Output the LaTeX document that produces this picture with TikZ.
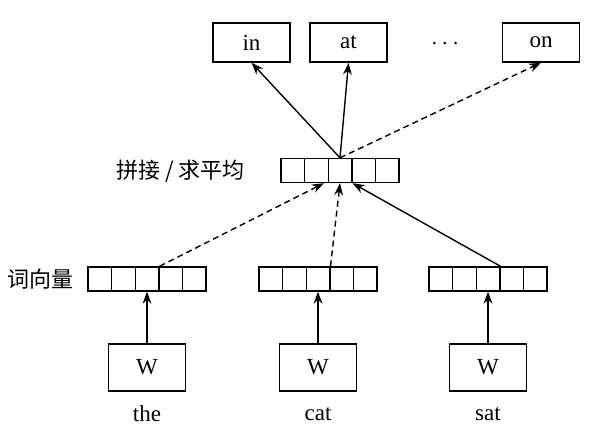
\documentclass[tikz,border=0pt]{standalone}
\usepackage{fontspec}
\setmainfont{Liberation Serif}
\newfontfamily\cjkfont{Noto Sans CJK SC}
\usetikzlibrary{arrows.meta}

\begin{document}
\begin{tikzpicture}[x=0.5pt,y=-0.5pt,font=\fontsize{11.5}{13}\selectfont,
    cell/.style={draw,line width=0.7pt,minimum width=11.8pt,minimum height=12pt,inner sep=0pt},
    outbox/.style={draw,line width=0.7pt,minimum width=38.5pt,minimum height=19.5pt,inner sep=0pt},
    wbox/.style={draw,line width=0.7pt,minimum width=38.5pt,minimum height=23.5pt,inner sep=0pt},
    arr/.style={-{Stealth[length=6pt,width=4.4pt]},line width=0.7pt},
    dasharr/.style={arr,dash pattern=on 3pt off 2pt}]
      \useasboundingbox (0,0) rectangle (592,433);
      % output words
      \node[outbox](in) at (251.5,42.5){in};
      \node[outbox](at) at (348.5,42.5){at};
      \node(dots) at (445,44){$\cdots$};
      \node[outbox](on) at (541,42.5){on};
      % hidden layer
      \foreach \i in {1,...,5}
        \node[cell](avg\i) at ({340+23.6*(\i-3)},170.5){};
      \node[anchor=east,font=\cjkfont\fontsize{11}{13}\selectfont](avglabel) at (252,171){拼接 / 求平均};
      % word vectors
      \foreach \i in {1,...,5}{
        \node[cell](the\i) at ({147+23.6*(\i-3)},279){};
        \node[cell](cat\i) at ({318+23.6*(\i-3)},279){};
        \node[cell](sat\i) at ({488+23.6*(\i-3)},279){};
      }
      \node[anchor=east,font=\cjkfont\fontsize{11}{13}\selectfont](veclabel) at (81,279){词向量};
      % input words
      \node[wbox](Wthe) at (147,367.5){W};
      \node[wbox](Wcat) at (318,367.5){W};
      \node[wbox](Wsat) at (488,367.5){W};
      \node(the) at (147,414){the};
      \node(cat) at (318,414){cat};
      \node(sat) at (488,414){sat};
      % connectors
      \draw[arr] (Wthe.north) -- (the3.south);
      \draw[arr] (Wcat.north) -- (cat3.south);
      \draw[arr] (Wsat.north) -- (sat3.south);
      \draw[dasharr] (the3.north east) -- ([xshift=-2.5pt]avg2.south east);
      \draw[dasharr] (cat3.north east) -- (avg3.south);
      \draw[arr] (sat3.north east) -- (avg3.south east);
      \draw[arr] (avg3.north) -- (in.south);
      \draw[arr] (avg3.north) -- (at.south);
      \draw[dasharr] (avg3.north) -- (on.south);
\end{tikzpicture}
\end{document}
